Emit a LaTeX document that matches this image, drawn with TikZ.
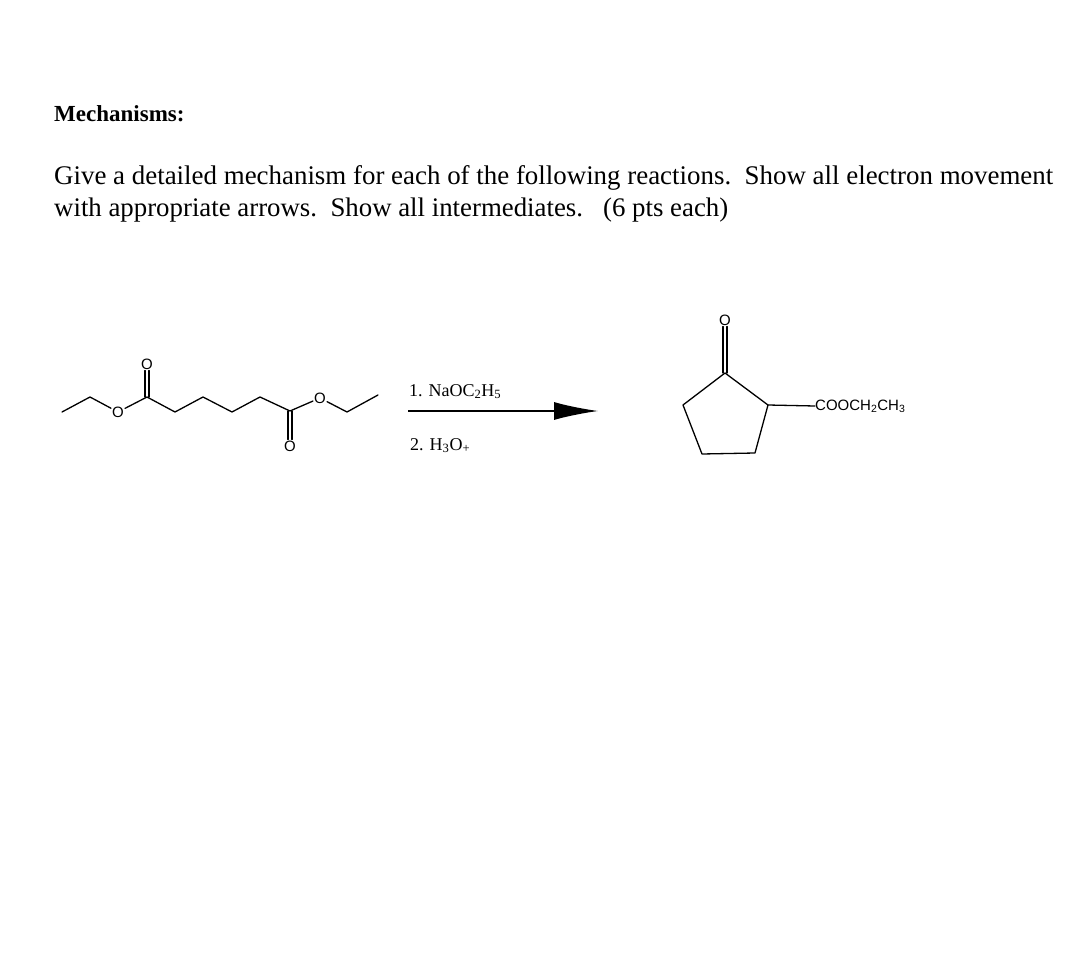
\documentclass[tikz,border=0pt]{standalone}
\usepackage{fontspec}
\setmainfont{Liberation Serif}
\setsansfont{Liberation Sans}
\usetikzlibrary{arrows.meta}
\begin{document}
\begin{tikzpicture}[x=1pt,y=-1pt,
  bond/.style={line width=1.3pt,line cap=round,line join=round},
  atom/.style={inner sep=1pt,font=\sffamily\fontsize{15}{15}\selectfont},
  txt/.style={anchor=base west,inner sep=0pt,font=\fontsize{23}{26}\selectfont}]
\useasboundingbox[fill=white] (0,0) rectangle (1080,963);
\node[txt,font=\bfseries\fontsize{23}{26}\selectfont] (title) at (54,122) {Mechanisms:};
\node[txt] (l1) at (54,185) {\resizebox{999pt}{!}{Give a detailed mechanism for each of the following reactions.\ \ Show all electron movement}};
\node[txt] (l2) at (54,216) {\resizebox{674pt}{!}{with appropriate arrows.\ \ Show all intermediates.\ \ \ (6 pts each)}};
% reactant
\coordinate (a1) at (62,412);
\coordinate (a2) at (90,397);
\node[atom] (o1) at (118,412) {O};
\coordinate (c1) at (147,397);
\node[atom] (o2) at (147,364) {O};
\coordinate (c2) at (175,412);
\coordinate (c3) at (203,397);
\coordinate (c4) at (232,412);
\coordinate (c5) at (260,397);
\coordinate (c6) at (290,411);
\node[atom] (o3) at (290,446) {O};
\node[atom] (o4) at (320,398) {O};
\coordinate (a3) at (347,412);
\coordinate (a4) at (378,395);
\draw[bond] (a1)--(a2)--(o1)--(c1)--(c2)--(c3)--(c4)--(c5)--(c6)--(o4)--(a3)--(a4);
\draw[bond] ([xshift=-2pt]c1)--([xshift=-2pt]o2.south);
\draw[bond] ([xshift=2pt]c1)--([xshift=2pt]o2.south);
\draw[bond] ([xshift=-2pt]c6)--([xshift=-2pt]o3.north);
\draw[bond] ([xshift=2pt]c6)--([xshift=2pt]o3.north);
% arrow
\coordinate (ar1) at (408,411);
\coordinate (ar2) at (598,411);
\draw[line width=1.3pt,-{Latex[length=44pt,width=18pt]}] (ar1)--(ar2);
\node[anchor=base west,inner sep=0pt,font=\fontsize{18}{20}\selectfont] (r1) at (409,396) {1. NaOC\textsubscript{2}H\textsubscript{5}};
\node[anchor=base west,inner sep=0pt,font=\fontsize{18}{20}\selectfont] (r2) at (410,450) {2. H\textsubscript{3}O\textsubscript{+}};
% product
\coordinate (p1) at (725,373);
\coordinate (p2) at (768,405);
\coordinate (p3) at (755,453);
\coordinate (p4) at (702,454);
\coordinate (p5) at (683,405);
\node[atom] (po) at (725,320) {O};
\draw[bond] (p1)--(p2)--(p3)--(p4)--(p5)--cycle;
\draw[bond] ([xshift=-2pt]p1)--([xshift=-2pt]po.south);
\draw[bond] ([xshift=2pt]p1)--([xshift=2pt]po.south);
\node[atom,anchor=west,inner sep=0pt] (est) at (815,406) {COOCH\textsubscript{2}CH\textsubscript{3}};
\draw[bond] (p2)--(est.west);
\end{tikzpicture}
\end{document}
